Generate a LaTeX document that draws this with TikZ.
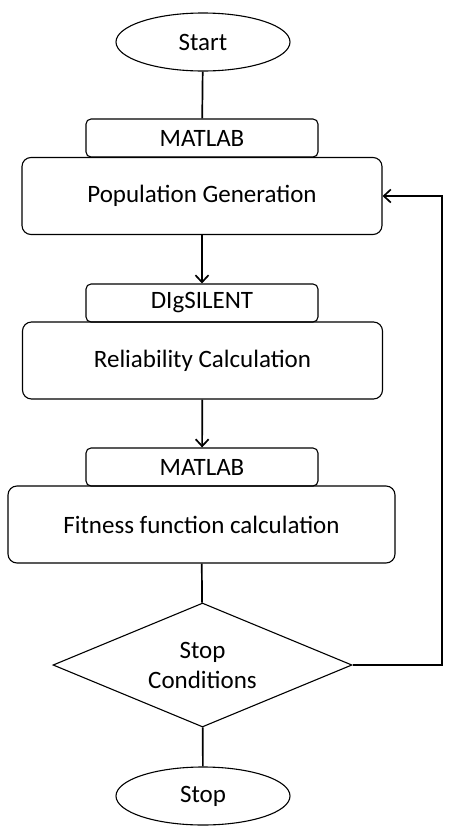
\documentclass[tikz,border=0pt]{standalone}
\usepackage{fontspec}
\setmainfont{Carlito}
\usetikzlibrary{arrows.meta,shapes.geometric}

\begin{document}
\begin{tikzpicture}[x=1pt, y=-1pt, >={Straight Barb[length=7pt,width=13pt]},
  font=\fontsize{25}{30}\selectfont,
  terminal/.style={ellipse, draw, line width=1.1pt, inner sep=0pt,
    minimum width=174pt, minimum height=58pt},
  toolbox/.style={rectangle, rounded corners=5pt, draw, line width=1.1pt,
    inner sep=0pt, minimum width=232pt, minimum height=38pt},
  stepbox/.style={rectangle, rounded corners=9pt, draw, line width=1.1pt,
    inner sep=0pt, minimum width=360pt, minimum height=77pt},
  link/.style={line width=1.7pt}]
  \useasboundingbox (0,0) rectangle (454,828);

  % --- inicio y primer bloque ---
  \node[terminal] (start) at (203,42) {Start};
  \node[toolbox] (matA) at (202,138) {MATLAB};
  \node[stepbox] (pop) at (202,196) {Population Generation};

  % --- bloque de confiabilidad ---
  \node[toolbox] (dig) at (202,303) {DIgSILENT};
  \node[stepbox] (rel) at (202.5,360.5) {Reliability Calculation};

  % --- bloque de aptitud ---
  \node[toolbox] (matB) at (202,467) {MATLAB};
  \node[stepbox, minimum width=387pt] (fit) at (201.5,524.5) {Fitness function calculation};

  % --- decision y fin ---
  \node[diamond, aspect=2.4, draw, line width=1.1pt, inner sep=0pt, align=center,
    minimum width=299pt, minimum height=124pt] (cond) at (202.5,665)
    {Stop\\Conditions};
  \node[terminal] (stop) at (203,796) {Stop};
  \coordinate (back) at (442,665);

  \draw[link] (start) -- (matA);
  \draw[link, ->] (pop) -- (dig);
  \draw[link, ->] (rel) -- (matB);
  \draw[link] (fit) -- (cond);
  \draw[link] (cond) -- (stop);
  \draw[link, ->] (cond.east) -- (back) |- (pop.east);
\end{tikzpicture}
\end{document}
